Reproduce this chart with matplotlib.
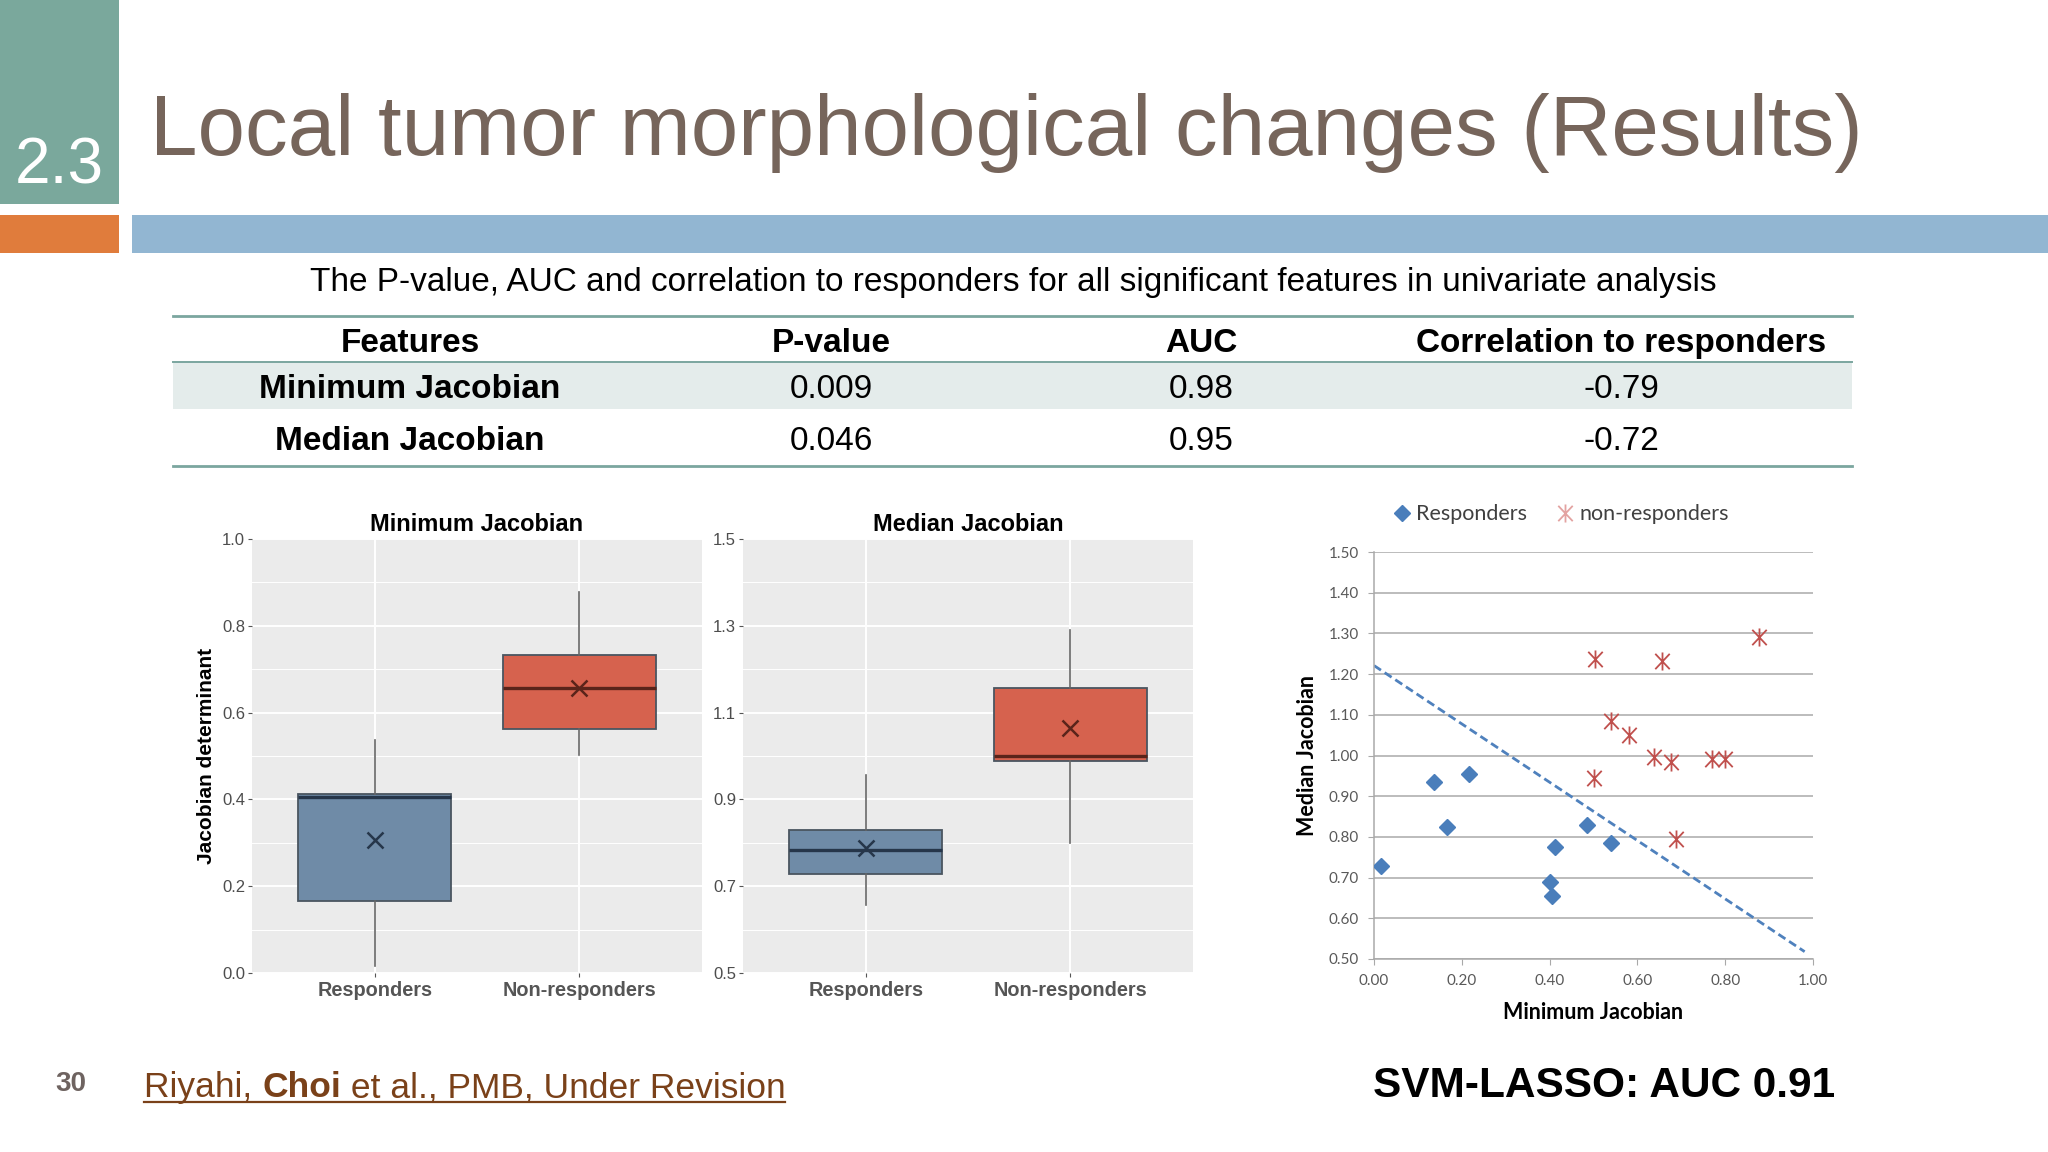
import matplotlib
matplotlib.use("Agg")
import matplotlib.pyplot as plt
from matplotlib.patches import Rectangle
from matplotlib.path import Path
from matplotlib.ticker import FixedLocator, FormatStrFormatter

# ===== Data =====
slide_title = 'Local tumor morphological changes (Results)'
section_no = '2.3'
table_caption = ('The P-value, AUC and correlation to responders for all '
                 'significant features in univariate analysis')
table_header = ['Features', 'P-value', 'AUC', 'Correlation to responders']
features = ['Minimum Jacobian', 'Median Jacobian']
p_values = ['0.009', '0.046']
auc_values = ['0.98', '0.95']
correlations = ['-0.79', '-0.72']

groups = ['Responders', 'Non-responders']
# box stats (Responders, Non-responders)
minjac_whislo = [0.015, 0.502]
minjac_q1 = [0.165, 0.562]
minjac_med = [0.406, 0.657]
minjac_q3 = [0.413, 0.732]
minjac_whishi = [0.538, 0.877]
minjac_mean = [0.307, 0.657]

medjac_whislo = [0.657, 0.800]
medjac_q1 = [0.729, 0.988]
medjac_med = [0.784, 0.999]
medjac_q3 = [0.830, 1.157]
medjac_whishi = [0.957, 1.290]
medjac_mean = [0.788, 1.064]

# scatter: minimum vs median jacobian per patient
resp_min = [0.015, 0.137, 0.166, 0.216, 0.413, 0.402, 0.406, 0.486, 0.539]
resp_med = [0.729, 0.936, 0.824, 0.955, 0.776, 0.690, 0.656, 0.830, 0.784]
nonresp_min = [0.504, 0.657, 0.876, 0.540, 0.581, 0.637, 0.676, 0.501,
               0.769, 0.799, 0.688]
nonresp_med = [1.237, 1.232, 1.290, 1.085, 1.050, 0.997, 0.985, 0.944,
               0.991, 0.991, 0.796]
boundary_x = [0.0, 0.981]
boundary_y = [1.221, 0.518]

footer_page = '30'
citation_parts = ['Riyahi, ', 'Choi', ' et al., PMB, Under Revision']
model_result = 'SVM-LASSO: AUC 0.91'

# ===== Style =====
SANS = ['Liberation Sans', 'DejaVu Sans']
XLS = ['Lato', 'DejaVu Sans']
plt.rcParams['font.family'] = SANS

W, H = 2048, 1152
fig = plt.figure(figsize=(W / 100, H / 100), dpi=100)


def px_axes(x0, y0, x1, y1):
    return fig.add_axes([x0 / W, 1 - y1 / H, (x1 - x0) / W, (y1 - y0) / H])


# slide background layer in pixel coords
bg = fig.add_axes([0, 0, 1, 1])
bg.set_xlim(0, W)
bg.set_ylim(H, 0)
bg.axis('off')

bg.add_patch(Rectangle((0, 0), 119, 204, color='#7AA89C', lw=0))
bg.add_patch(Rectangle((0, 215), 119, 38, color='#E07C3C', lw=0))
bg.add_patch(Rectangle((132, 215), W - 132, 38, color='#92B6D2', lw=0))

bg.text(15, 184, section_no, fontsize=46, color='white', va='baseline')
bg.text(150, 155, slide_title, fontsize=61.5, color='#76655B', va='baseline')

# ===== Table =====
bg.text(1013, 291, table_caption, fontsize=24, ha='center', va='baseline')
tab_x0, tab_x1 = 173, 1852
line_c = '#7BA69F'
bg.add_patch(Rectangle((tab_x0, 362), tab_x1 - tab_x0, 47, color='#E4ECEB', lw=0))
bg.plot([tab_x0, tab_x1], [316, 316], color=line_c, lw=2.0)
bg.plot([tab_x0, tab_x1], [362, 362], color=line_c, lw=1.4)
bg.plot([tab_x0, tab_x1], [466, 466], color=line_c, lw=2.0)

col_x = [410, 831, 1201, 1621]
for cx, h in zip(col_x, table_header):
    bg.text(cx, 352, h, fontsize=24, fontweight='bold', ha='center', va='baseline')
rows = list(zip(features, p_values, auc_values, correlations))
for ry, row in zip([398, 450], rows):
    for i, (cx, val) in enumerate(zip(col_x, row)):
        bg.text(cx, ry, val, fontsize=24, ha='center', va='baseline',
                fontweight='bold' if i == 0 else 'normal')

# ===== Box plots =====
box_fill = ['#6F8BA7', '#D6624E']
box_mid = ['#26364A', '#5A241A']


def draw_box(ax, whislo, q1, med, q3, whishi, mean, yticks, yminor, title):
    stats = []
    for i, g in enumerate(groups):
        stats.append(dict(label=g, whislo=whislo[i], q1=q1[i], med=med[i],
                          q3=q3[i], whishi=whishi[i], mean=mean[i]))
    bp = ax.bxp(stats, positions=[1, 2], widths=0.75, patch_artist=True,
                showmeans=True, showcaps=False, showfliers=False,
                boxprops=dict(edgecolor='#4A5560', linewidth=1.3),
                whiskerprops=dict(color='#666666', linewidth=1.2),
                medianprops=dict(linewidth=2.4),
                meanprops=dict(marker='x', markersize=11, markeredgewidth=1.8))
    for i in range(2):
        bp['boxes'][i].set_facecolor(box_fill[i])
        bp['medians'][i].set_color(box_mid[i])
        bp['means'][i].set_markeredgecolor(box_mid[i])
    ax.set_facecolor('#EBEBEB')
    for s in ax.spines.values():
        s.set_visible(False)
    ax.set_xlim(0.4, 2.6)
    ax.set_ylim(yticks[0], yticks[-1])
    ax.yaxis.set_major_locator(FixedLocator(yticks))
    ax.yaxis.set_minor_locator(FixedLocator(yminor))
    ax.set_yticklabels([f'{t:.1f}' for t in yticks])
    ax.set_axisbelow(True)
    ax.grid(which='major', color='white', lw=1.4)
    ax.grid(which='minor', axis='y', color='white', lw=0.7)
    ax.tick_params(axis='y', which='major', labelsize=12, labelcolor='#4D4D4D',
                   length=3, color='#555555', pad=2)
    ax.tick_params(axis='y', which='minor', length=0)
    ax.tick_params(axis='x', labelsize=14.3, labelcolor='#555555', length=3,
                   color='#555555', pad=3)
    for lab in ax.get_xticklabels():
        lab.set_fontweight('bold')
    ax.set_title(title, fontsize=17, fontweight='bold', pad=5.5)


ax1 = px_axes(252, 539, 702, 973)
draw_box(ax1, minjac_whislo, minjac_q1, minjac_med, minjac_q3, minjac_whishi,
         minjac_mean, [0.0, 0.2, 0.4, 0.6, 0.8, 1.0], [0.1, 0.3, 0.5, 0.7, 0.9],
         'Minimum Jacobian')
ax1.set_ylabel('Jacobian determinant', fontsize=15, fontweight='bold')
ax1.yaxis.set_label_coords(-0.08, 0.5)

ax2 = px_axes(743, 539, 1193, 973)
draw_box(ax2, medjac_whislo, medjac_q1, medjac_med, medjac_q3, medjac_whishi,
         medjac_mean, [0.5, 0.7, 0.9, 1.1, 1.3, 1.5], [0.6, 0.8, 1.0, 1.2, 1.4],
         'Median Jacobian')

# ===== Scatter (Excel style) =====
ax3 = px_axes(1374, 552, 1813, 959)
star = Path([(-0.8, -0.85), (0.8, 0.85), (-0.8, 0.85), (0.8, -0.85), (0, -1), (0, 1)],
            [Path.MOVETO, Path.LINETO] * 3)
ax3.plot(boundary_x, boundary_y, color='#4F81BD', lw=2.0, ls=(0, (3, 1.6)), zorder=2)
h1, = ax3.plot(resp_min, resp_med, 'D', ms=8.5, color='#4A7EBB', ls='none',
               label='Responders', zorder=3)
h2, = ax3.plot(nonresp_min, nonresp_med, marker=star, ms=13, mew=1.3, color='#C0504D',
               ls='none', label='non-responders', zorder=3)
ax3.set_xlim(0, 1)
ax3.set_ylim(0.5, 1.5)
ax3.set_xticks([0.0, 0.2, 0.4, 0.6, 0.8, 1.0])
ax3.set_yticks([0.5, 0.6, 0.7, 0.8, 0.9, 1.0, 1.1, 1.2, 1.3, 1.4, 1.5])
ax3.xaxis.set_major_formatter(FormatStrFormatter('%.2f'))
ax3.yaxis.set_major_formatter(FormatStrFormatter('%.2f'))
ax3.grid(axis='y', color='#A9A9A9', lw=1.1)
ax3.set_axisbelow(True)
for side in ['top', 'right']:
    ax3.spines[side].set_visible(False)
for side in ['left', 'bottom']:
    ax3.spines[side].set_color('#A9A9A9')
    ax3.spines[side].set_linewidth(1.1)
ax3.tick_params(length=4, color='#A9A9A9', labelsize=11, labelcolor='#595959', pad=7)
for lab in ax3.get_xticklabels() + ax3.get_yticklabels():
    lab.set_family(XLS)
ax3.set_xlabel('Minimum Jacobian', fontsize=15.5, fontweight='bold', family=XLS)
ax3.xaxis.set_label_coords(0.5, -0.105)
ax3.set_ylabel('Median Jacobian', fontsize=15.5, fontweight='bold', family=XLS)
ax3.yaxis.set_label_coords(-0.128, 0.5)
leg = ax3.legend(handles=[h1, h2], ncol=2, loc='center left', bbox_to_anchor=(0.045, 1.093),
                 frameon=False, borderpad=0, borderaxespad=0, handlelength=0.8,
                 handletextpad=0.25, columnspacing=1.35,
                 prop={'family': XLS, 'size': 15.5}, labelcolor='#404040')
leg.legend_handles[1].set_color('#E3A3A1')

# ===== Footer =====
bg.text(55, 1091, footer_page, fontsize=20, fontweight='bold', color='#6E6360', va='baseline')
link_c = '#7A4119'
t1 = bg.text(144, 1097, citation_parts[0], fontsize=25.5, color=link_c, va='baseline')
t2 = bg.annotate(citation_parts[1], xy=(1, 0), xycoords=t1, va='bottom', ha='left',
                 fontsize=25.5, fontweight='bold', color=link_c)
t3 = bg.annotate(citation_parts[2], xy=(1, 0), xycoords=t2, va='bottom', ha='left',
                 fontsize=25.5, color=link_c)
bg.text(1373, 1097, model_result, fontsize=30.5, fontweight='bold', va='baseline')

fig.canvas.draw()
rend = fig.canvas.get_renderer()
inv = bg.transData.inverted()
xs = inv.transform((t1.get_window_extent(rend).x0, 0))[0]
xe = inv.transform((t3.get_window_extent(rend).x1, 0))[0]
bg.plot([xs, xe], [1102, 1102], color=link_c, lw=1.6)

fig.savefig('out.png', dpi=100)
